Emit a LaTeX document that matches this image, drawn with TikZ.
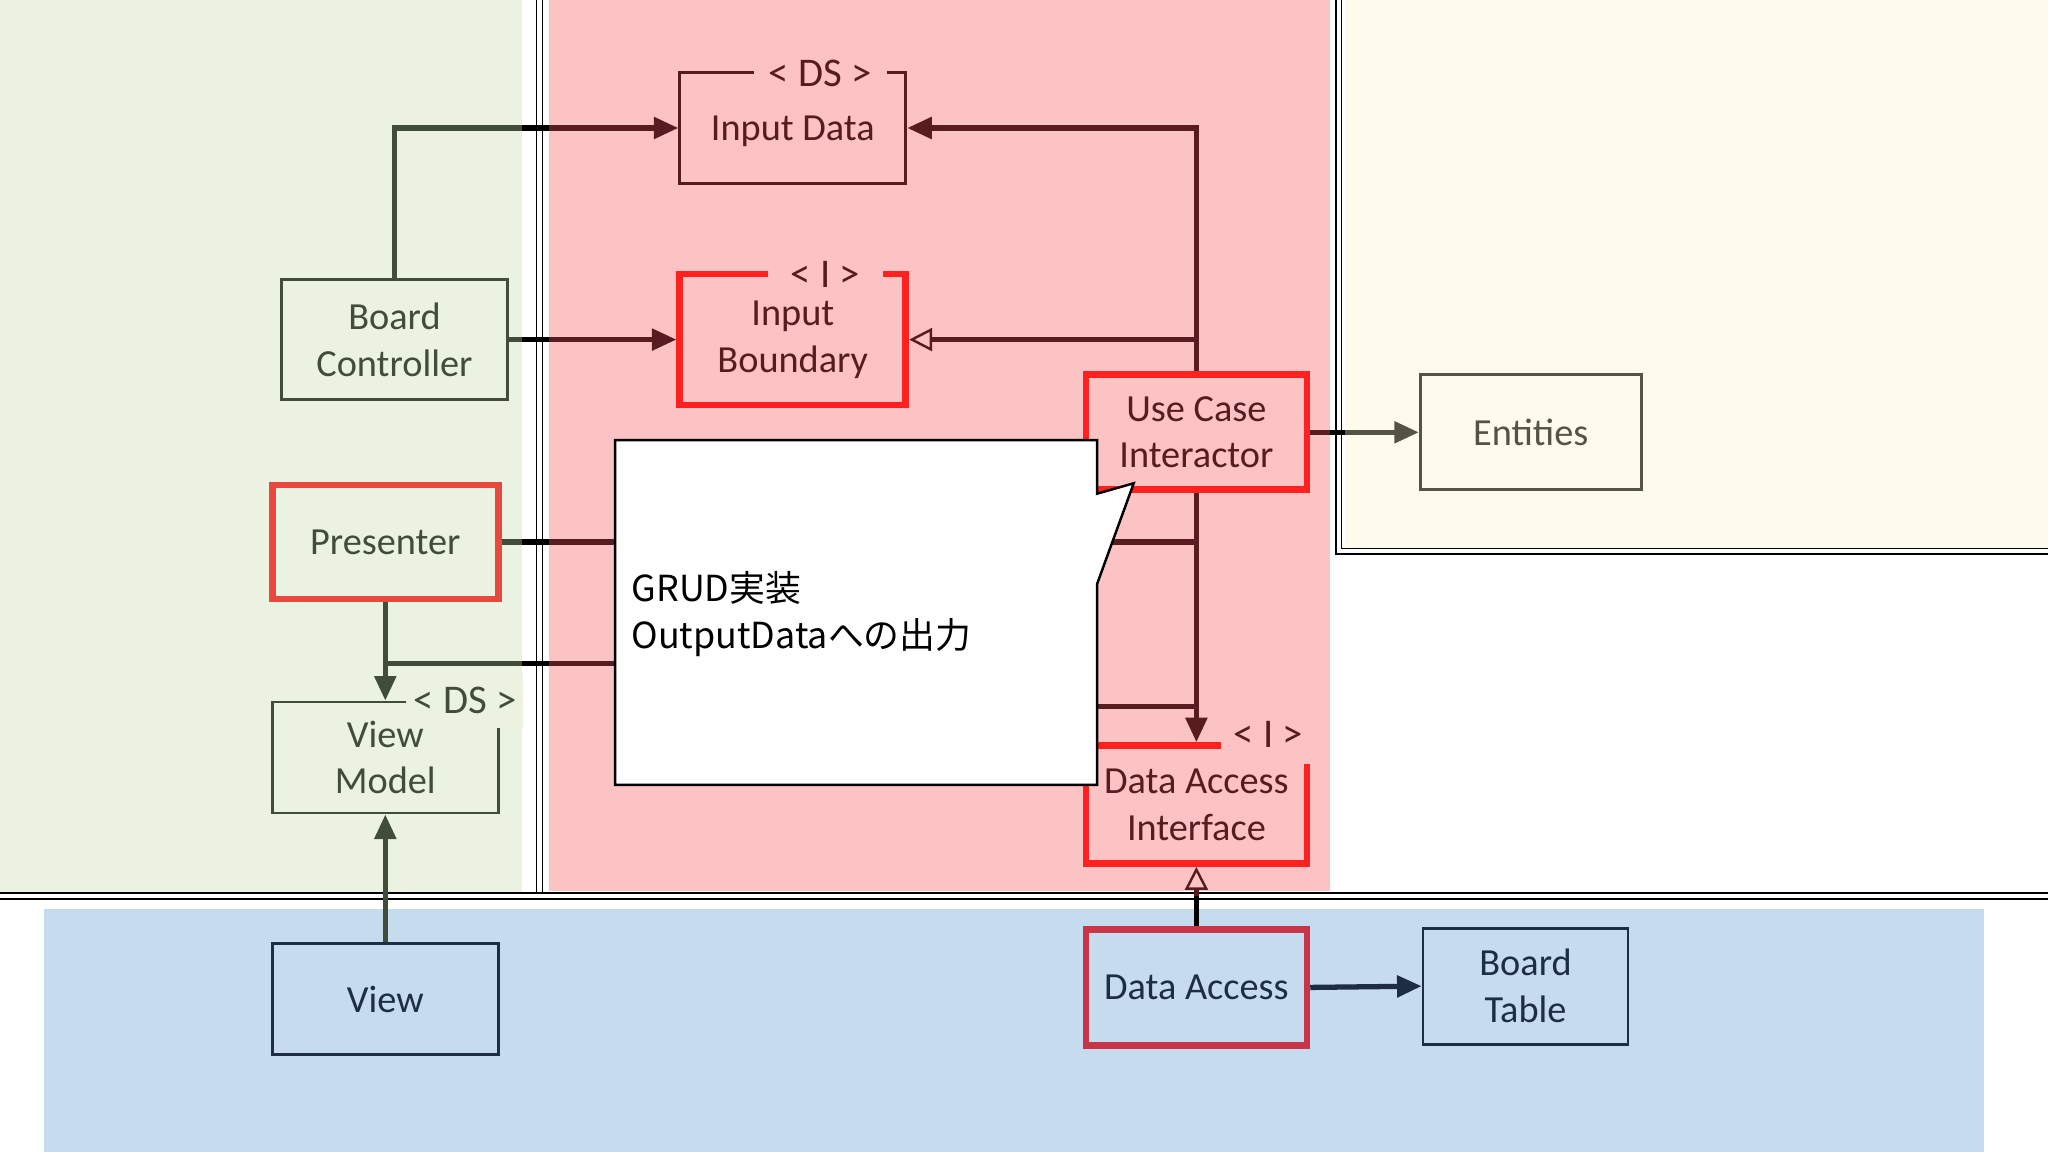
\documentclass[tikz,border=0pt]{standalone}
\usepackage{fontspec}
\setmainfont{Carlito}
\newfontfamily\jpfont{Noto Sans CJK JP}
\usetikzlibrary{arrows.meta}

\definecolor{greenbg}{RGB}{235,242,226}
\definecolor{pinkbg}{RGB}{252,195,196}
\definecolor{creambg}{RGB}{254,251,237}
\definecolor{bluebg}{RGB}{199,219,239}
\definecolor{gline}{RGB}{66,76,58}
\definecolor{rline}{RGB}{88,28,32}
\definecolor{eline}{RGB}{84,84,70}
\definecolor{bline}{RGB}{30,46,66}
\definecolor{boxred}{RGB}{255,32,32}
\definecolor{presred}{RGB}{232,72,62}
\definecolor{dared}{RGB}{200,52,72}

\tikzset{
  box/.style={draw, line width=0.8pt, minimum width=2.26cm, minimum height=1.12cm,
    align=center, inner sep=1pt, font=\fontsize{10.9}{13.3}\selectfont},
  redbox/.style={box, line width=1.9pt},
  stereo/.style={inner sep=1pt, font=\fontsize{11.6}{13}\selectfont},
  wire/.style={line width=1.5pt},
  depend/.style={wire, -{Triangle[length=7pt,width=6pt]}},
  realize/.style={wire, -{Triangle[open,length=6.5pt,width=6.5pt,line width=0.7pt]}},
  splitline/.style={draw=black, double=white, line width=0.4pt, double distance=1.2pt}
}

\begin{document}
\begin{tikzpicture}[x=0.01306cm, y=-0.01306cm]
  \useasboundingbox (0,0) rectangle (1568,882);
  \fill[greenbg] (0,0) rectangle (400,683);
  \fill[pinkbg] (420,0) rectangle (1018,682);
  \fill[creambg] (1030,0) rectangle (1568,420);
  \fill[bluebg] (34,696) rectangle (1519,882);
  \draw[splitline] (413,0) -- (413,686);
  \draw[splitline] (0,686) -- (1568,686);
  \draw[splitline] (1025,0) -- (1025,422) -- (1568,422);

  \coordinate (gedge) at (400,0);
  \coordinate (pedge) at (420,0);
  \coordinate (pright) at (1018,0);
  \coordinate (cleft) at (1030,0);
  \coordinate (hsep) at (0,686);
  \coordinate (outjoin) at (295,508);
  \coordinate (outbend) at (600,541);

  \node[box, draw=rline, text=rline, minimum height=1.11cm, text depth=0pt] (idata) at (607,98) {Input Data};
  \node[redbox, draw=boxred, text=rline, minimum height=1.31cm] (ibound) at (607,260) {Input\\Boundary};
  \node[box, draw=gline, text=gline, minimum height=1.2cm] (bctrl) at (302,260) {Board\\Controller};
  \node[redbox, draw=boxred, text=rline, minimum width=2.21cm, minimum height=1.15cm] (uci) at (916,331) {Use Case\\Interactor};
  \node[box, draw=eline, text=eline, minimum width=2.21cm, minimum height=1.15cm] (ent) at (1172,331) {Entities};
  \node[redbox, draw=presred, text=gline, minimum height=1.14cm] (pres) at (295,415) {Presenter};
  \node[box, draw=gline, text=gline, minimum height=1.11cm] (vmodel) at (295,580) {View\\Model};
  \node[redbox, draw=boxred, text=rline, minimum width=2.21cm, minimum height=1.18cm] (dai) at (916,616) {Data Access\\Interface};
  \node[box, draw=bline, text=bline, minimum height=1.11cm] (view) at (295,765) {View};
  \node[redbox, draw=dared, text=bline, minimum width=2.21cm, minimum height=1.16cm] (dacc) at (916,756) {Data Access};
  \node[box, draw=bline, text=bline, minimum width=2.05cm, minimum height=1.16cm] (btable) at (1168,755) {Board\\Table};

  \draw[wire, gline] (bctrl.north) |- (gedge |- idata.west);
  \draw[wire, black] (gedge |- idata.west) -- (pedge |- idata.west);
  \draw[depend, rline] (pedge |- idata.west) -- (idata.west);
  \draw[wire, gline] (bctrl.east) -- (gedge |- bctrl.east);
  \draw[wire, black] (gedge |- bctrl.east) -- (pedge |- bctrl.east);
  \draw[depend, rline] (pedge |- bctrl.east) -- (ibound.west);
  \draw[depend, rline] (uci.north) |- (idata.east);
  \draw[realize, rline] (uci.north |- ibound.east) -- (ibound.east);
  \draw[wire, rline] (uci.east) -- (pright |- uci.east);
  \draw[wire, black] (pright |- uci.east) -- (cleft |- uci.east);
  \draw[depend, eline] (cleft |- uci.east) -- (ent.west);
  \draw[depend, rline] (uci.south) -- (dai.north);
  \draw[depend, gline] (pres.south) -- (vmodel.north);
  \draw[wire, gline] (pres.east) -- (gedge |- pres.east);
  \draw[wire, black] (gedge |- pres.east) -- (pedge |- pres.east);
  \draw[wire, rline] (pedge |- pres.east) -- (uci.south |- pres.east);
  \draw[wire, gline] (outjoin) -- (gedge |- outjoin);
  \draw[wire, black] (gedge |- outjoin) -- (pedge |- outjoin);
  \draw[wire, rline] (pedge |- outjoin) -| (outbend) -- (uci.south |- outbend);
  \draw[depend, gline] (view.north) -- (vmodel.south);
  \draw[wire, black] (dacc.north) -- (dacc.north |- hsep);
  \draw[realize, rline] (dacc.north |- hsep) -- (dai.south);
  \draw[depend, bline] (dacc.east) -- (btable.west);

  \node[stereo, fill=pinkbg, text=rline, minimum width=1.33cm] (idata-ds) at (628,56) {< DS >};
  \node[stereo, fill=pinkbg, text=rline, minimum width=1.15cm] (ibound-i) at (632,210) {< I >};
  \node[stereo, fill=greenbg, text=gline, minimum width=1.17cm, minimum height=0.55cm] (vmodel-ds) at (356,536) {< DS >};
  \node[stereo, fill=pinkbg, text=rline, minimum width=0.95cm, minimum height=0.59cm] (dai-i) at (971,562) {< I >};

  \draw[fill=white, line width=0.7pt] (471,337) -- (840,337) -- (840,378) -- (868,370)
    -- (840,447) -- (840,601) -- (471,601) -- cycle;
  \node[anchor=west, align=left, inner sep=0pt, font=\jpfont\fontsize{10.2}{13.3}\selectfont] (note) at (483,470)
    {GRUD実装\\OutputDataへの出力};
\end{tikzpicture}
\end{document}
